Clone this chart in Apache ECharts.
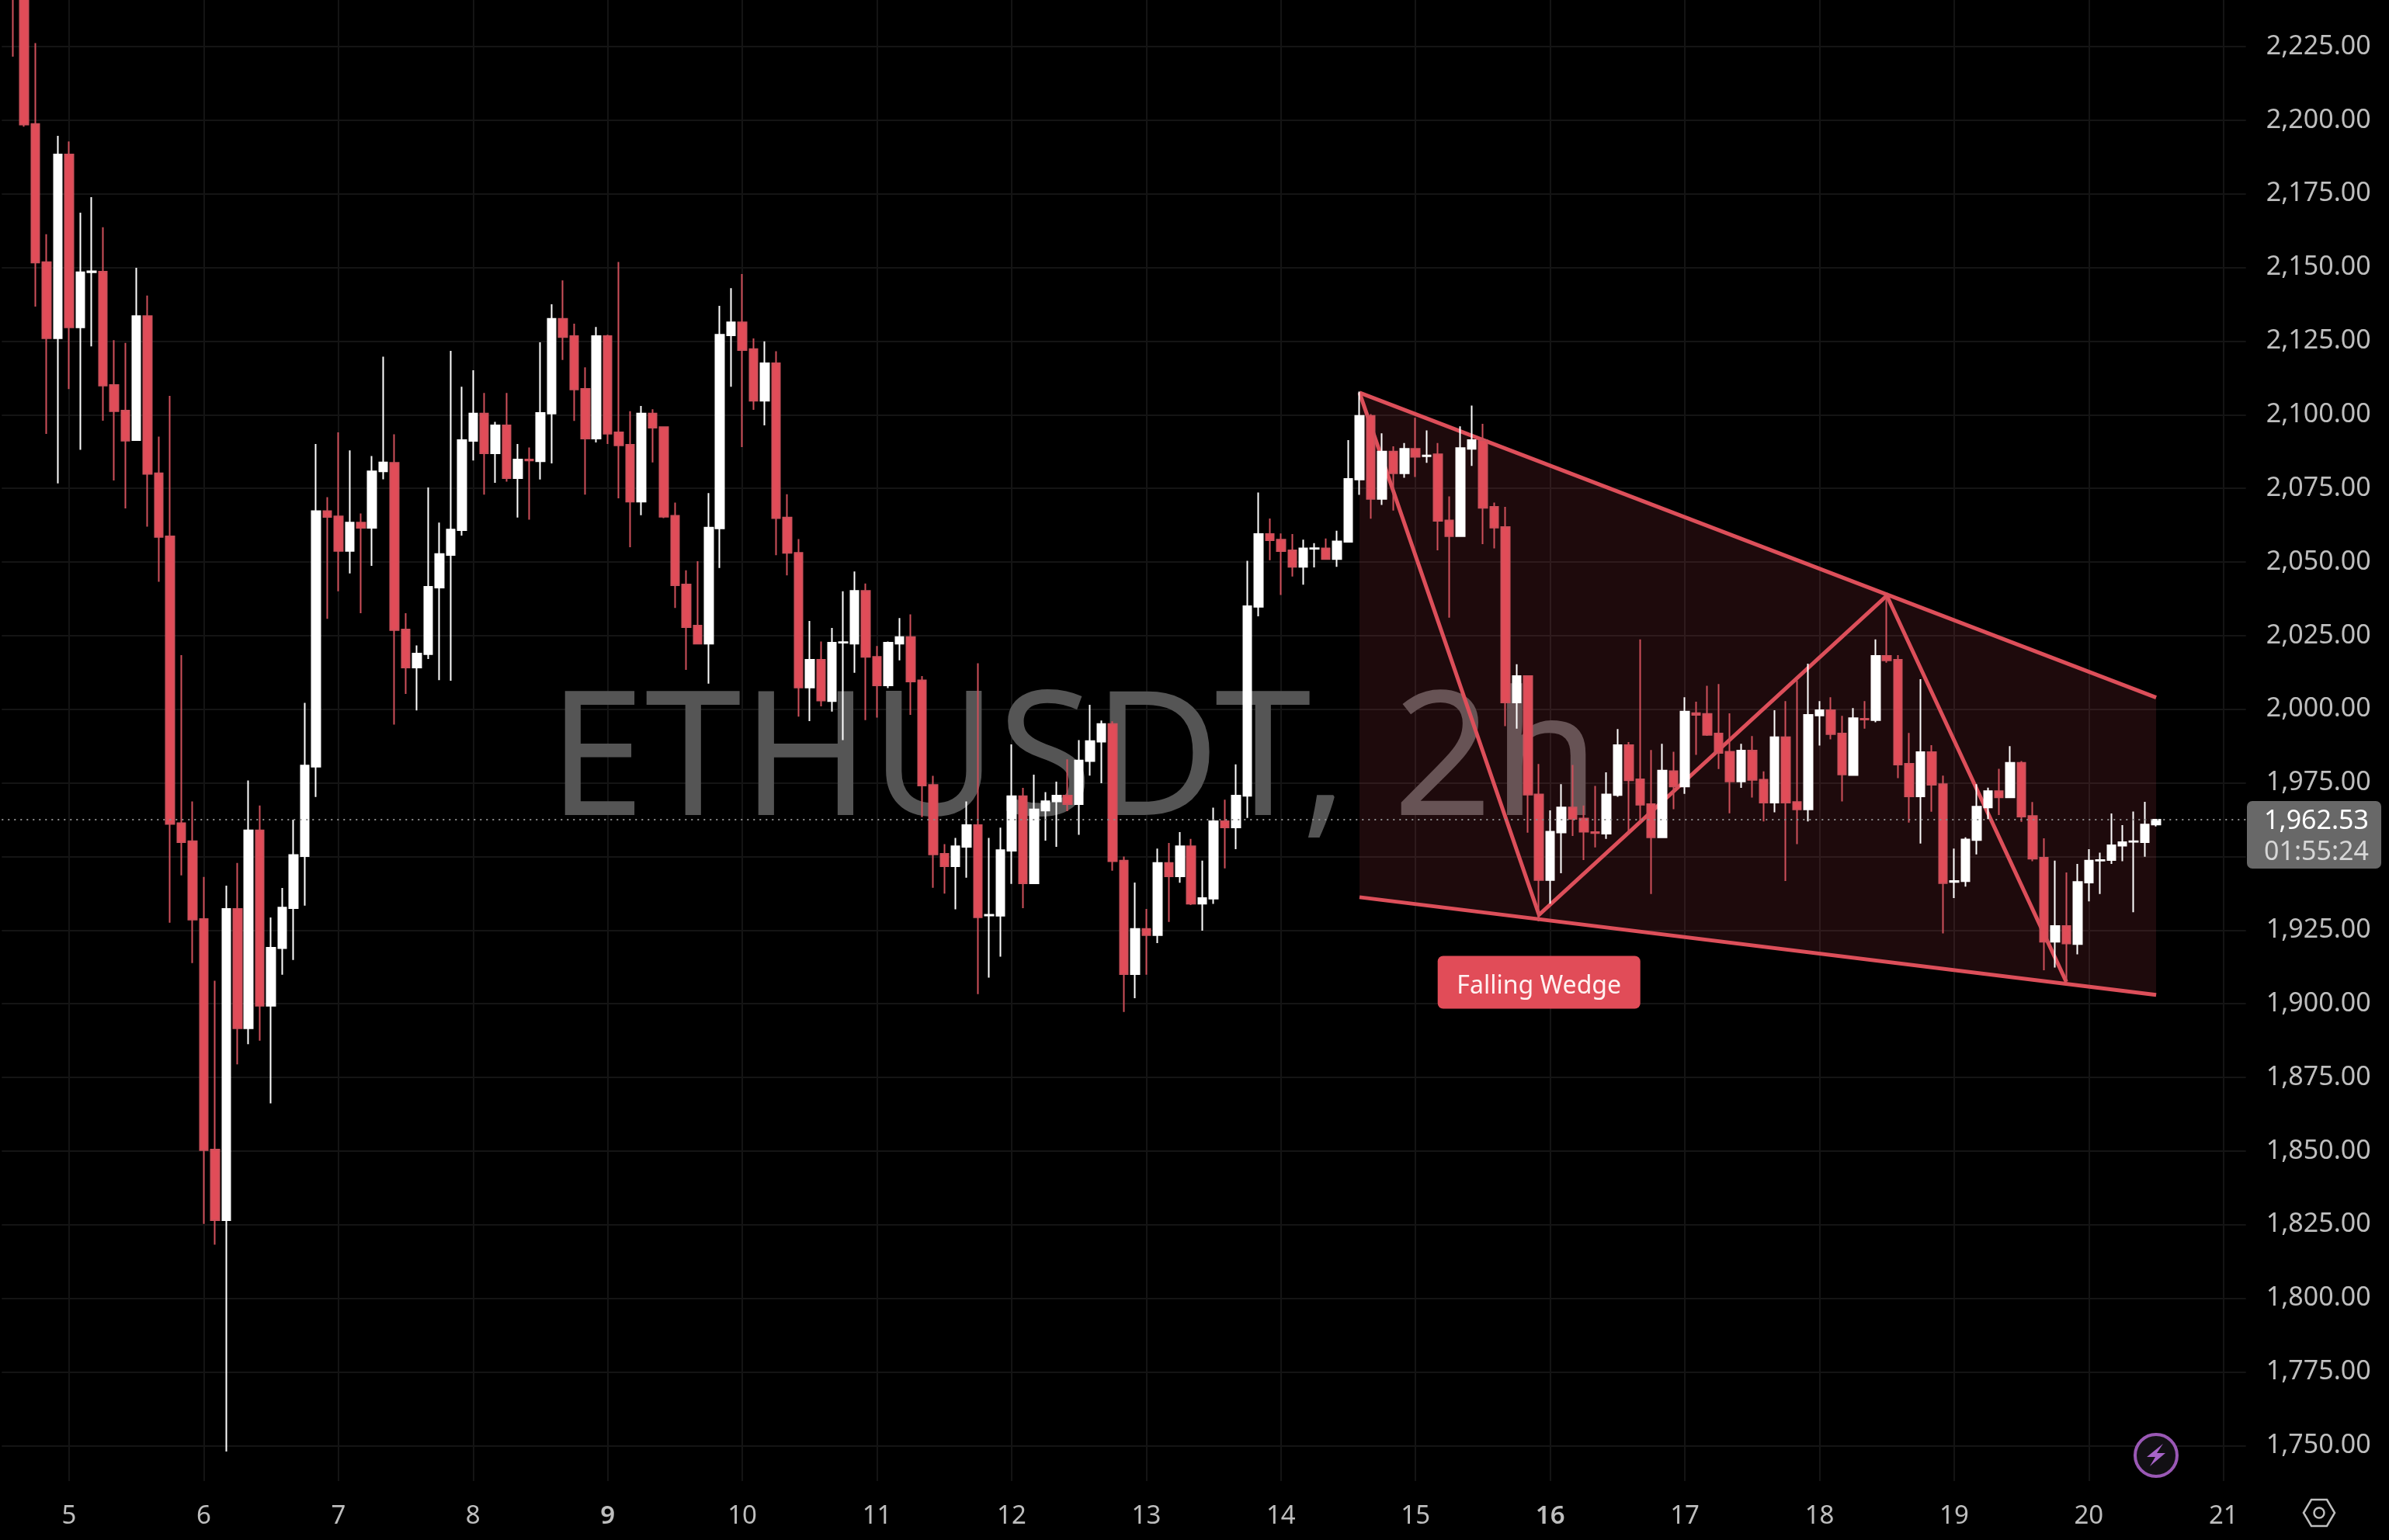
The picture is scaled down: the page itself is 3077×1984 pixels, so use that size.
<!DOCTYPE html>
<html>
<head>
<meta charset="utf-8">
<style>html,body{margin:0;padding:0;background:#000}#chart{width:3077px;height:1984px}</style>
<script src="https://cdn.jsdelivr.net/npm/echarts@6/dist/echarts.min.js"></script>
</head>
<body>
<div id="chart"></div>
<script>
// 2h candles, first entry is slot index 1 on the category axis
const opens = [2290,2245,2198.7,2151.8,2126,2188.4,2129.7,2148.4,2148.6,2110.1,2101.4,2091.4,2133.5,2080.1,2058.7,1961.3,1955.2,1928.8,1850.5,1826.5,1932.2,1891.7,1958.9,1899.3,1918.9,1932.5,1950.1,1980.5,2067.3,2065.5,2053.8,2063.4,2061.6,2080.8,
2083.7,2027.1,2014.2,2018.7,2041.3,2052.4,2060.8,2091.1,2100.4,2086.9,2096.4,2078.5,2084.8,2084.2,2100.4,2132.6,2126.7,2108.8,2091.9,2126.7,2094,2089.8,2070.5,2100.4,2095.8,2065.7,2042.4,2028.4,2022.3,2061.4,2127,2131.4,2122.3,2104.8,2117.5,
2065.1,2053.1,2007.4,2016.8,2002.8,2022.6,2022.3,2040.2,2017.8,2008.1,2022.3,2024.5,2009.8,1974.3,1950.9,1946.7,1953.3,1960.7,1930,1929.9,1952,1970.5,1940.9,1965.6,1968.7,1970.7,1967.8,1982.4,1989,1995,1948.6,1910.1,1925.4,1923.3,1947.8,1943.3,1953.5,1934,1935.7,1962,1959.9,
1970.6,2034.8,2059.5,2057.6,2054,2048.4,2054.5,2054.6,2051,2056.9,2078,2099.6,2071.4,2087.5,2080.1,2088.4,2085.9,2086.6,2064.1,2058.8,2088.4,2091.4,2068.7,2061.9,2002.3,2011.3,1971.1,1942,1958.2,1966.7,1962.9,
1958.3,1957.8,1970.9,1987.8,1976.2,1967.8,1956.5,1979,1973.8,1998.7,1998.4,1991.8,1985.6,1975.5,1986,1976.1,1968.3,1990.5,1968.5,1966,1997.9,1999.7,1991.8,1977.7,1996.8,1996.3,2018.1,2016.8,1981.5,1970.4,1985.45,1974.6,
1941.4,1941.6,1955.6,1966.7,1972.2,1970.1,1981.8,1963.8,1949.6,1921.1,1926.4,1920.3,1941.2,1948.6,1948.8,1953.7,1955,1954.9,1960.9];
const closes = [2245,2198.5,2151.7,2126,2188.4,2129.7,2148.4,2148.7,2109.9,2101.2,2091.2,2133.5,2079.9,2058.5,1961.1,1954.9,1928.6,1850.3,1826.5,1932.2,1891.7,1958.9,1899.3,1919,1932.7,1950.5,1980.9,2067.3,2065.3,2053.8,2063.4,2061.6,2080.8,2083.8,
2026.9,2014.2,2018.9,2041.6,2052.7,2061,2091.4,2100.4,2086.9,2096.4,2078.5,2084.8,2084.5,2100.6,2132.6,2126.4,2108.6,2091.9,2126.7,2093.6,2089.6,2070.5,2100.4,2095.6,2065.4,2042.1,2027.9,2022.3,2061.7,2127.2,2131.4,2122,2104.8,2117.5,2064.9,
2053.1,2007.4,2016.8,2003,2022.6,2022.8,2040.2,2017.8,2008.1,2022.6,2024.5,2009.4,1974.1,1950.7,1946.7,1953.5,1960.7,1929.4,1930.2,1952.2,1970.5,1940.9,1966,1968.8,1970.7,1967.8,1982.6,1989.2,1995,1948.4,1910.1,1925.4,1923.3,1947.8,1943.3,1953.5,1934,1935.9,1962,1959.9,1970.7,
2035,2059.5,2057.4,2053.7,2048.4,2054.6,2054.7,2051,2057,2078.2,2099.6,2071.4,2087.5,2080.1,2088.4,2085.7,2086.2,2064,2058.8,2088.7,2091.4,2068.4,2061.7,2002.3,2011.3,1971,1942,1958.4,1966.7,1962.8,1958.4,
1958,1971.1,1987.8,1975.9,1967.6,1956.5,1979.2,1973.8,1999.2,1998.1,1991.3,1985.2,1975.5,1986,1976,1968.3,1990.5,1968.3,1966,1998.1,1999.7,1991.6,1977.9,1997,1996.5,2018.1,2016.6,1981.2,1970.4,1985.45,1974.4,1941,
1941.7,1955.8,1966.9,1972.2,1970.1,1981.8,1963.6,1949.3,1921.1,1926.4,1920.5,1941.4,1948.6,1948.8,1953.8,1954.9,1955.2,1960.9,1962.53];
const lows = [2221.6,2197.8,2136.7,2093.5,2076.7,2108.7,2088.1,2123.2,2098,2077.7,2068.2,2091.4,2062,2043.3,1927.5,1943.6,1913.8,1825.3,1818.25,1748,1879.4,1886.3,1887.5,1866.2,1909.9,1914.9,1933.3,1970.2,2030.7,2040.1,2046.1,2032.6,2048.7,2078.1,
1994.8,2005.2,1999.6,2017.1,2009.9,2009.7,2059,2084.5,2072.9,2076.9,2077.3,2065.1,2064.4,2078,2083.5,2118.6,2097.9,2072.9,2090.6,2090.1,2071.6,2055,2065.9,2083.8,2064.9,2034.4,2013.4,2022.3,2008.7,2048,2109.5,2089,2101.7,2096.4,2052.3,
2045.5,1997.5,1996,2001,1999.2,1989.5,2012.4,1996.3,1997.2,2007.2,2016.6,1998.1,1963.4,1939.4,1937.4,1932.1,1942.8,1903.3,1908.9,1916,1940.7,1932.5,1940.9,1955.4,1953.3,1965.4,1957.4,1977.5,1974.9,1945.2,1897.2,1901.9,1909.9,1920.6,1927.8,1941.1,1933.5,1924.8,1933.9,1946,1952.5,
1963.1,2031.6,2050.6,2038.8,2045.1,2042.3,2048.2,2050.8,2048.4,2056.9,2072.8,2064.7,2069.4,2067.5,2078.6,2078.9,2083.7,2054,2031.1,2058.8,2082.6,2056.1,2054.6,1994.3,1993.4,1958.1,1928,1934,1944.3,1957,1948.8,
1953.1,1956,1970.3,1957.5,1961.5,1937.3,1956.5,1966.1,1971.3,1984.5,1991,1979.7,1964.7,1973.3,1970,1961.9,1965,1941.7,1954.2,1961.9,1987.7,1989.8,1968.7,1977.5,1993.4,1995.6,2015.8,1976.6,1961.5,1954.4,1965.2,1923.9,
1935.9,1939.8,1950.7,1962.7,1964.1,1970.1,1961.8,1948.4,1911.4,1912.3,1907.7,1916.8,1934.8,1937.3,1947.5,1948.4,1931.1,1949.9,1960.2];
const highs = [2300,2260,2226.2,2161.3,2194.7,2192.8,2168.6,2173.9,2163.7,2125.3,2124.4,2149.9,2140.5,2092.6,2106.4,2018.4,1968.7,1943.05,1907.8,1940.1,1947.8,1975.8,1967.3,1929.3,1939.3,1962.5,2002.2,2090.1,2072,2094,2087.9,2066.5,2086,2119.7,
2093.4,2032.6,2021.7,2075.3,2063.4,2121.7,2109.5,2115.1,2107.4,2097.6,2107.4,2090.1,2088.9,2124.6,2137.5,2145.6,2130.9,2116.1,2129.8,2127.2,2151.9,2101.2,2103,2101.9,2095.8,2070.2,2047.2,2050.3,2073.4,2137,2143,2147.8,2125.9,2124.9,2121.6,
2073,2057.8,2030,2023,2027.6,2040.1,2046.8,2042.7,2021.5,2023,2031,2032.2,2011.3,1977.4,1954.2,1956.3,1968.7,2015.6,1956.3,1959.8,1988.1,1973.3,1977.8,1971.9,1975.4,1983,1989.5,2001.5,1996.2,1995.9,1950,1941.2,1932.2,1952.7,1954.6,1958.3,1956,1948.6,1966.6,1969.3,1981.3,
2050.4,2073.6,2064.8,2059.7,2059.5,2057.6,2056.4,2058,2060.6,2091.4,2107.9,2100.2,2093.7,2089.3,2090.4,2099,2094.7,2090.4,2072.3,2096.1,2103.1,2096.9,2070.2,2068.7,2015.3,2011.3,1981.4,1965.7,1974.6,1981.1,1967.3,
1974,1978.6,1993.3,1988.9,2023.7,1986.2,1988.3,1985.6,2004.1,2002.6,2008,2008.6,1998.6,1988.3,1990.9,1978.9,1999.7,2002.8,2009.8,2015.5,2002.8,2004.1,1997.75,2000.4,2002.8,2023.7,2037.9,2018.4,1992,2010.2,1987.8,1977.5,
1952.7,1956.5,1974.6,1973.4,1979.8,1987.5,1982.4,1968.5,1956.2,1948.6,1944.6,1947.5,1952.5,1951.3,1964.6,1960.7,1965.3,1968.6,1962.7];

const yTicks = [1750,1775,1800,1825,1850,1875,1900,1925,1950,1975,2000,2025,2050,2075,2100,2125,2150,2175,2200,2225];
const dayLabels = ['5','6','7','8','9','10','11','12','13','14','15','16','17','18','19','20','21'];
const boldDays = ['9','16'];
const candlesPerDay = 12;
const slotsBeforeFirstDay = 6;
const totalSlots = 201;
const leadingBlanks = 1;
const lastPrice = 1962.53;
const countdown = '01:55:24';
const watermark = 'ETHUSDT, 2h';
const patternName = 'Falling Wedge';
// pattern anchors as [candle slot from day 5, price]
const wedgeTop = [[115.1,2107.5],[186.1,2004]];
const wedgeBottom = [[115.1,1936.2],[186.1,1903]];
const zigzag = [[115.1,2107.5],[131.06,1930.2],[162.17,2038.6],[178,1907.4]];
const labelAnchor = [131.0,1907.3];

const RED = '#E14C58';
const WICK_RED = '#CF505B';
const LINE_RED = '#DD4F5A';
const AXIS_TXT = '#BEBEBE';
const FONT = '"Noto Sans"';

const categories = [];
for (let s = 0; s < totalSlots; s++) {
  const i = s - slotsBeforeFirstDay;
  categories.push(i >= 0 && i % candlesPerDay === 0 ? dayLabels[i / candlesPerDay] : '');
}
const candleData = categories.map(function (_, s) {
  const k = s - leadingBlanks;
  return k >= 0 && k < opens.length ? [opens[k], closes[k], lows[k], highs[k]] : '-';
});
const isDaySlot = function (s) { return !!categories[s]; };
const fmt = function (v) { return v.toLocaleString('en-US', {minimumFractionDigits: 2, maximumFractionDigits: 2}); };
const toSlot = function (p) { return [p[0] + slotsBeforeFirstDay, p[1]]; };

const chart = echarts.init(document.getElementById('chart'), null, {renderer: 'canvas'});
chart.setOption({
  animation: false,
  backgroundColor: '#000',
  grid: {left: 2.29, top: 0, width: 2890.4, height: 1908, containLabel: false},
  xAxis: {
    type: 'category', data: categories, boundaryGap: false,
    axisLine: {show: false}, axisTick: {show: false},
    splitLine: {show: true, interval: function (s) { return isDaySlot(s); }, lineStyle: {color: '#141414', width: 2}},
    axisLabel: {
      interval: function (s) { return isDaySlot(s); },
      color: AXIS_TXT, fontFamily: FONT, fontSize: 33, margin: 46, verticalAlign: 'middle', hideOverlap: false,
      formatter: function (v) { return boldDays.indexOf(v) >= 0 ? '{b|' + v + '}' : v; },
      rich: {b: {fontFamily: FONT, fontSize: 33, fontWeight: 600, color: AXIS_TXT, verticalAlign: 'middle'}}
    }
  },
  yAxis: {
    type: 'value', position: 'right', min: 1737.97, max: 2240.83, scale: true,
    axisLine: {show: false}, axisTick: {show: false, customValues: yTicks},
    splitLine: {show: true, lineStyle: {color: '#141414', width: 2}},
    axisLabel: {customValues: yTicks, color: AXIS_TXT, fontFamily: FONT, fontSize: 34, align: 'right', margin: 161, padding: [10, 0, 0, 0], formatter: function (v) { return fmt(v); }}
  },
  series: [
    {
      type: 'custom', z: 2, silent: true, data: [[0, 2000]], encode: {x: 0, y: 1}, clip: false,
      renderItem: function (params, api) {
        const pt = function (p) { return api.coord(toSlot(p)); };
        const poly = [wedgeTop[0], wedgeTop[1], wedgeBottom[1], wedgeBottom[0]].map(pt);
        const c = pt(labelAnchor);
        const stroke = {stroke: LINE_RED, lineWidth: 5, fill: null};
        return {type: 'group', children: [
          {type: 'polygon', shape: {points: poly}, style: {fill: 'rgba(225,76,88,0.135)'}},
          {type: 'polyline', shape: {points: wedgeTop.map(pt)}, style: stroke},
          {type: 'polyline', shape: {points: wedgeBottom.map(pt)}, style: stroke},
          {type: 'polyline', shape: {points: zigzag.map(pt)}, style: stroke},
          {type: 'rect', shape: {x: c[0] - 130.5, y: c[1] - 34, width: 261, height: 68, r: 7}, style: {fill: RED}},
          {type: 'text', style: {text: patternName, x: c[0], y: c[1] + 5, fill: '#FFF1F1', font: '32px ' + FONT, align: 'center', verticalAlign: 'middle'}}
        ]};
      }
    },
    {
      type: 'candlestick', z: 4, data: candleData, barWidth: 11,
      itemStyle: {color: '#FFFFFF', color0: RED, borderColor: '#FFFFFF', borderColor0: WICK_RED, borderWidth: 2}
    },
    {
      type: 'line', z: 5, silent: true, symbol: 'none',
      data: [[0, lastPrice], [totalSlots - 1, lastPrice]],
      lineStyle: {color: '#8C8C8C', width: 2, type: [2, 6]}
    }
  ],
  graphic: {elements: [
    {type: 'text', z: 1, silent: true, x: 706, y: 986, style: {text: watermark, fill: '#555555', font: '224px ' + FONT, verticalAlign: 'middle', align: 'left'}},
    {type: 'rect', z: 50, silent: true, shape: {x: 2894, y: 1032, width: 173, height: 87, r: 7}, style: {fill: '#686868'}},
    {type: 'text', z: 51, silent: true, x: 3051, y: 1058, style: {text: fmt(lastPrice), fill: '#FFFFFF', font: '34px ' + FONT, align: 'right', verticalAlign: 'middle'}},
    {type: 'text', z: 51, silent: true, x: 3051, y: 1098, style: {text: countdown, fill: '#D6D6D6', font: '34px ' + FONT, align: 'right', verticalAlign: 'middle'}},
    {type: 'circle', z: 50, silent: true, shape: {cx: 2777, cy: 1875, r: 27}, style: {fill: '#121014', stroke: '#9A58B5', lineWidth: 4}},
    {type: 'polygon', z: 51, silent: true, shape: {points: [[2786,1860],[2765,1877],[2776,1877],[2769,1889],[2789,1872],[2778,1872]]}, style: {fill: '#A764C8'}},
    {type: 'polygon', z: 50, silent: true, shape: {points: [[2967,1949],[2977,1932],[2997,1932],[3007,1949],[2997,1966],[2977,1966]]}, style: {fill: null, stroke: AXIS_TXT, lineWidth: 2.5}},
    {type: 'circle', z: 50, silent: true, shape: {cx: 2987, cy: 1949, r: 6.5}, style: {fill: null, stroke: AXIS_TXT, lineWidth: 2.5}}
  ]}
});
</script>
</body>
</html>
